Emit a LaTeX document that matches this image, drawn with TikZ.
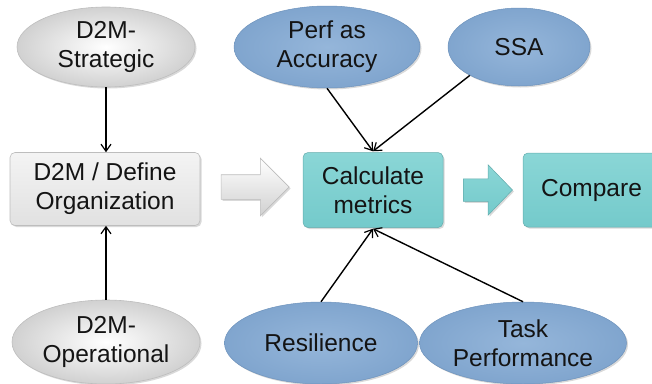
\documentclass[tikz,border=0pt]{standalone}
\usepackage{fontspec}
\setmainfont{Liberation Sans}
\usetikzlibrary{shapes.geometric,shapes.arrows,arrows.meta,shadows}
\definecolor{ggray}{HTML}{E8E8E8}
\definecolor{gedge}{HTML}{BDBDBD}
\definecolor{bluein}{HTML}{95B6DA}
\definecolor{blueout}{HTML}{80A5CE}
\definecolor{blueline}{HTML}{6E93BC}
\definecolor{tealtop}{HTML}{8AD6D6}
\definecolor{tealbot}{HTML}{74CACB}
\tikzset{
  txt/.style={font=\fontsize{24.5}{29}\selectfont, text=black!92, align=center},
  shad/.style={drop shadow={opacity=0.3, shadow xshift=1.5pt, shadow yshift=-1.5pt}},
  grayell/.style={ellipse, txt, shad, inner sep=0pt, draw=gedge, line width=0.6pt,
     inner color=white, outer color=gedge!70},
  blueell/.style={ellipse, txt, shad, inner sep=0pt, draw=blueline, line width=0.5pt,
     inner color=bluein, outer color=blueout},
  graybox/.style={rectangle, rounded corners=5pt, txt, shad, draw=gedge, line width=0.6pt,
     top color=ggray!50, bottom color=ggray!97!black},
  tealbox/.style={rectangle, rounded corners=5pt, txt, shad, draw=tealbot!85!black, line width=0.5pt,
     top color=tealtop, bottom color=tealbot},
  conn/.style={-{Straight Barb[length=7pt,width=10pt,line width=1.2pt]}, line width=1.4pt, black},
}
\begin{document}
\begin{tikzpicture}[x=1pt,y=-1pt]
\useasboundingbox (0,0) rectangle (652,383);
% ellipses
\node[grayell, minimum width=178pt, minimum height=80pt] (strat) at (106,47) {D2M-\\Strategic};
\node[grayell, minimum width=188pt, minimum height=84pt] (oper) at (106,342) {D2M-\\Operational};
\node[blueell, minimum width=186pt, minimum height=82pt] (perf) at (327,47) {Perf as\\Accuracy};
\node[blueell, minimum width=142pt, minimum height=78pt] (ssa) at (519,47) {SSA};
\node[blueell, minimum width=193pt, minimum height=82pt] (res) at (321,343) {Resilience};
\node[blueell, minimum width=207pt, minimum height=82pt] (task) at (523,343) {Task\\Performance};
% boxes
\node[graybox, minimum width=190pt, minimum height=73pt] (def) at (105,189) {D2M / Define\\Organization};
\node[tealbox, minimum width=140pt, minimum height=75pt] (calc) at (373,190) {Calculate\\metrics};
\node[tealbox, minimum width=138pt, minimum height=74pt] (comp) at (592,190) {\hspace*{-1pt}Compare};
% block arrows
\node[single arrow, shad, draw=gedge, line width=0.6pt, top color=white, bottom color=ggray!90!black,
  minimum height=68pt, inner xsep=0pt, inner ysep=12pt, single arrow head extend=16.5pt,
  single arrow tip angle=90, anchor=center] (ga) at (249,187) {};
\node[single arrow, shad, draw=tealbot!85!black, line width=0.5pt, top color=tealtop, bottom color=tealbot,
  minimum height=49pt, inner xsep=0pt, inner ysep=11pt, single arrow head extend=14pt,
  single arrow tip angle=92, anchor=center] (ta) at (482.5,190) {};
% connectors
\draw[conn] (strat.south) -- (strat.south |- def.north);
\draw[conn] (oper.north) -- (oper.north |- def.south);
\draw[conn] (perf.south) -- ([yshift=1pt]calc.north);
\draw[conn] (ssa.210) -- ([yshift=1pt]calc.north);
\draw[conn] (res.north) -- ([yshift=-1pt]calc.south);
\draw[conn] (task.north) -- ([yshift=-1pt]calc.south);
\end{tikzpicture}
\end{document}
